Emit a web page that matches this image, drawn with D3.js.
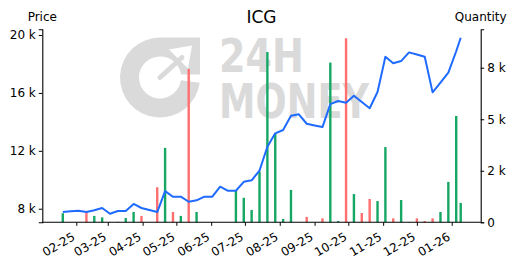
<!DOCTYPE html>
<html><head><meta charset="utf-8">
<script src="https://cdn.jsdelivr.net/npm/d3@7"></script>
<style>html,body{margin:0;padding:0;background:#fff;}svg{display:block;font-family:"DejaVu Sans",sans-serif;}</style>
</head><body><svg id="c" width="517" height="268"></svg>
<script>
const dates = ["2025-01-20","2025-01-27","2025-02-03","2025-02-10","2025-02-17","2025-02-24","2025-03-03","2025-03-10","2025-03-17","2025-03-24","2025-03-31","2025-04-07","2025-04-14","2025-04-21","2025-04-28","2025-05-05","2025-05-12","2025-05-19","2025-05-26","2025-06-02","2025-06-09","2025-06-16","2025-06-23","2025-06-30","2025-07-07","2025-07-14","2025-07-21","2025-07-28","2025-08-04","2025-08-11","2025-08-18","2025-08-25","2025-09-01","2025-09-08","2025-09-15","2025-09-22","2025-09-29","2025-10-06","2025-10-13","2025-10-20","2025-10-27","2025-11-03","2025-11-10","2025-11-17","2025-11-24","2025-12-01","2025-12-08","2025-12-15","2025-12-22","2025-12-29","2026-01-05","2026-01-09"];
const prices = [7770,7820,7860,7770,7890,8050,7650,7840,7840,8330,8050,7910,7770,9220,8830,8830,8480,8580,8830,8830,9520,9240,9240,9860,9960,10640,12280,13210,13440,14420,14520,13870,13750,13640,15230,15440,15320,15810,15370,14940,16060,18500,18050,18200,18800,18650,18500,16040,16720,17400,18880,19810];
const volumes = [440,0,0,470,310,240,20,20,210,500,310,0,1700,3610,500,310,7440,500,0,10,0,0,1530,1190,600,2460,8260,4320,160,1570,0,260,0,190,7750,60,8930,1370,450,1130,1030,3650,190,1080,15,190,60,190,500,1960,5160,940];
const sides = ["up","up","up","down","up","up","down","up","up","up","down","down","down","up","down","up","down","up","up","up","up","up","up","up","up","up","up","up","up","up","up","down","down","down","up","up","down","up","down","down","up","up","down","up","up","down","down","down","up","up","up","up"];
const priceTicks = [8000,12000,16000,20000];
const priceTickLabels = ["8 k","12 k","16 k","20 k"];
const qtyTicks = [0,2500,5000,7500];
const qtyTickLabels = ["0","2 k","5 k","8 k"];
const monthTicks = ["2025-02-01","2025-03-01","2025-04-01","2025-05-01","2025-06-01","2025-07-01","2025-08-01","2025-09-01","2025-10-01","2025-11-01","2025-12-01","2026-01-01"];
const monthLabels = ["02-25","03-25","04-25","05-25","06-25","07-25","08-25","09-25","10-25","11-25","12-25","01-26"];
const title = "ICG";

const svg = d3.select("#c");
const L = 42.3, R = 480.7, T = 29.3, B = 222.3;
const parse = d3.utcParse("%Y-%m-%d");
const x = d3.scaleUtc().domain([new Date(Date.UTC(2025,0,1,18)), new Date(Date.UTC(2026,0,26,19))]).range([L, R]);
const yP = d3.scaleLinear().domain([7062, 20396]).range([B, T]);
const yQ = d3.scaleLinear().domain([0, 9364]).range([B, T]);
const data = dates.map((d,i)=>({d:parse(d), p:prices[i], v:volumes[i], s:sides[i]}));

// watermark
const wm = svg.append("g").attr("fill","#dadada");
const cx=160, cy=77.5;
wm.append("path").attr("transform",`translate(${cx},${cy})`)
  .attr("d", d3.arc()({innerRadius:21,outerRadius:40,startAngle:Math.PI/2+0.13,endAngle:2*Math.PI}));
wm.append("path").attr("d",`M${cx},${cy-40}H${cx+40}V${cy-3}H${cx+21}A21,21 0 0 0 ${cx},${cy-21}Z`);
wm.append("path").attr("fill","#fff").attr("d",`M${cx+9},${cy-28} L${cx+32},${cy-32} L${cx+28},${cy-9} Z`);
wm.append("line").attr("x1",cx).attr("y1",cy).attr("x2",cx+22).attr("y2",cy-20)
  .attr("stroke","#dadada").attr("stroke-width",5).attr("stroke-linecap","round");
wm.append("text").attr("x",219).attr("y",72).attr("font-size",47).attr("font-weight","bold")
  .attr("textLength",85).attr("lengthAdjust","spacingAndGlyphs").text("24H");
wm.append("text").attr("x",219).attr("y",118).attr("font-size",48).attr("font-weight","bold")
  .attr("textLength",150).attr("lengthAdjust","spacingAndGlyphs").text("MONEY");

// bars
const bw = 2.4;
svg.append("g").selectAll("rect").data(data.filter(d=>d.v>0)).join("rect")
  .attr("x", d=>x(d.d)-bw/2).attr("width", bw)
  .attr("y", d=>yQ(d.v)).attr("height", d=>B-yQ(d.v))
  .attr("fill", d=>d.s==="up" ? "#17a765" : "#ff6f6f");

// price line
svg.append("path").datum(data).attr("fill","none").attr("stroke","#1f6bff").attr("stroke-width",2)
  .attr("stroke-linejoin","round")
  .attr("d", d3.line().x(d=>x(d.d)).y(d=>yP(d.p)));

// axes
const fs = 12;
const gl = svg.append("g").attr("transform",`translate(${L},0)`)
  .call(d3.axisLeft(yP).tickValues(priceTicks).tickFormat((d,i)=>priceTickLabels[i]).tickSizeOuter(0).tickSize(3.5).tickPadding(3));
const gr = svg.append("g").attr("transform",`translate(${R},0)`)
  .call(d3.axisRight(yQ).tickValues(qtyTicks).tickFormat((d,i)=>qtyTickLabels[i]).tickSizeOuter(0).tickSize(3.5).tickPadding(3));
const gb = svg.append("g").attr("transform",`translate(0,${B})`)
  .call(d3.axisBottom(x).tickValues(monthTicks.map(parse)).tickFormat((d,i)=>monthLabels[i]).tickSizeOuter(0).tickSize(3.5));
[gl,gr,gb].forEach(g=>{
  g.select(".domain").attr("stroke","#000").attr("stroke-width",1.1);
  g.selectAll(".tick line").attr("stroke","#000").attr("stroke-width",1);
  g.selectAll("text").attr("font-size",fs).attr("font-family","DejaVu Sans").attr("fill","#000");
});
gb.select(".domain").attr("d",`M${L},0H${R}`);
gb.selectAll(".tick text").attr("text-anchor","end").attr("y",0).attr("dy",0)
  .attr("transform","translate(-1,17) rotate(-30)");

// labels
svg.append("text").attr("x",L).attr("y",21).attr("text-anchor","middle").attr("font-size",12).text("Price");
svg.append("text").attr("x",R).attr("y",21).attr("text-anchor","middle").attr("font-size",12).text("Quantity");
svg.append("text").attr("x",(L+R)/2).attr("y",22.5).attr("text-anchor","middle").attr("font-size",17).text(title);
</script></body></html>
